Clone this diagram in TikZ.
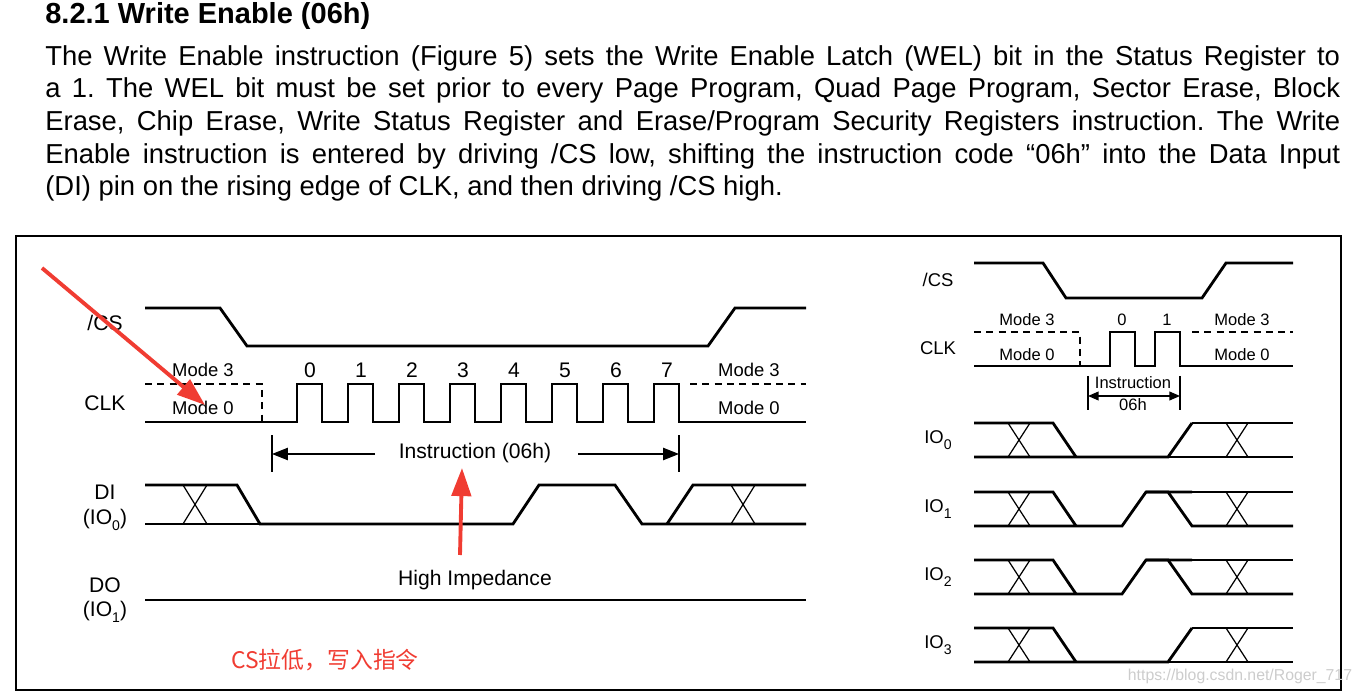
\documentclass[tikz,border=0pt]{standalone}
\usepackage{fontspec}
\setmainfont{Liberation Sans}
\newfontfamily\cjk{Noto Sans CJK SC}
\usetikzlibrary{arrows.meta}
\definecolor{redarrow}{RGB}{240,60,50}
\newcommand{\lowsub}[1]{\raisebox{-0.55ex}{\fontsize{8}{8}\selectfont #1}}
\tikzset{
 sig/.style={line width=1.6pt},
 thin/.style={line width=0.7pt},
 dashline/.style={line width=1.6pt,dash pattern=on 4pt off 3pt},
 lbl/.style={font=\fontsize{12}{12}\selectfont,inner sep=0},
 lbls/.style={font=\fontsize{9.4}{10}\selectfont,inner sep=0},
 para/.style={anchor=base west,inner sep=0,font=\fontsize{15.6}{16}\selectfont},
}
\begin{document}
\frenchspacing
\begin{tikzpicture}[x=0.02cm,y=-0.02cm]
\useasboundingbox (0,0) rectangle (1358,695);
% header
\node[anchor=base west,inner sep=0,font=\fontsize{16.5}{17}\selectfont\bfseries] (title) at (45,24) {8.2.1 Write Enable (06h)};
\node[para] (p1) at (45,66) {\makebox[25.9cm][s]{The Write Enable instruction (Figure 5) sets the Write Enable Latch (WEL) bit in the Status Register to}};
\node[para] (p2) at (45,98) {\makebox[25.9cm][s]{a 1. The WEL bit must be set prior to every Page Program, Quad Page Program, Sector Erase, Block}};
\node[para] (p3) at (45,131) {\makebox[25.9cm][s]{Erase, Chip Erase, Write Status Register and Erase/Program Security Registers instruction. The Write}};
\node[para] (p4) at (45,164) {\makebox[25.9cm][s]{Enable instruction is entered by driving /CS low, shifting the instruction code “06h” into the Data Input}};
\node[para] (p5) at (45,196) {(DI) pin on the rising edge of CLK, and then driving /CS high.};
% frame
\draw[line width=1.2pt] (16,236) rectangle (1341,690);
% ===== left diagram =====
\node[lbl] (lcs) at (105,323) {/CS};
\node[lbl] (lclk) at (105,403) {CLK};
\node[lbl] (ldi) at (105,492) {DI};
\node[lbl] (ldi2) at (105,520) {(IO\lowsub{0})};
\node[lbl] (ldo) at (105,585) {DO};
\node[lbl] (ldo2) at (105,612) {(IO\lowsub{1})};
\draw[sig] (145,308) -- (220,308) -- (247,346) -- (708,346) -- (735,308) -- (806,308);
\draw[dashline] (145,384) -- (262,384) -- (262,422);
\draw[dashline] (690,384) -- (806,384);
\draw[sig] (145,422) -- (297,422)
 \foreach \k in {0,...,6} { -- ({297+51*\k},384) -- ({322+51*\k},384) -- ({322+51*\k},422) -- ({348+51*\k},422) }
 -- (654,384) -- (679,384) -- (679,422) -- (806,422);
\foreach \k in {0,...,7} \node[lbl] (n\k) at ({310+51*\k},370) {\k};
\node[lbl,font=\fontsize{10.5}{11}\selectfont] (lm3) at (203,370) {Mode 3};
\node[lbl,font=\fontsize{10.5}{11}\selectfont] (lm0) at (203,408) {Mode 0};
\node[lbl,font=\fontsize{10.5}{11}\selectfont] (rm3) at (749,370) {Mode 3};
\node[lbl,font=\fontsize{10.5}{11}\selectfont] (rm0) at (749,408) {Mode 0};
\coordinate (ta1) at (272,435); \coordinate (ta2) at (272,472);
\coordinate (tb1) at (679,435); \coordinate (tb2) at (679,472);
\draw[thin] (ta1) -- (ta2); \draw[thin] (tb1) -- (tb2);
\node[lbl] (instr) at (475,453) {Instruction (06h)};
\coordinate (a1) at (375,454); \coordinate (a2) at (578,454);
\draw[thin,-{Triangle[length=9pt,width=7pt]}] (a1) -- (272,454);
\draw[thin,-{Triangle[length=9pt,width=7pt]}] (a2) -- (679,454);
% DI
\draw[sig] (145,485) -- (237,485) -- (260,524) -- (513,524) -- (539,485) -- (615,485) -- (642,524) -- (806,524);
\draw[sig] (145,524) -- (260,524);
\draw[sig] (667,524) -- (693,485) -- (806,485);
\draw[thin] (183,485) -- (207,524) (207,485) -- (183,524);
\draw[thin] (731,485) -- (755,524) (755,485) -- (731,524);
% DO
\draw[sig] (145,600) -- (806,600);
\node[lbl] (hiz) at (475,580) {High Impedance};
% ===== right diagram =====
\node[lbls,font=\fontsize{10.5}{11}\selectfont] (rcs) at (938,280) {/CS};
\node[lbls,font=\fontsize{10.5}{11}\selectfont] (rclk) at (938,348) {CLK};
\draw[sig] (974,263) -- (1043,263) -- (1066,298) -- (1202,298) -- (1226,263) -- (1293,263);
\draw[dashline] (974,332) -- (1080,332) -- (1080,366);
\draw[dashline] (1192,332) -- (1293,332);
\draw[sig] (974,366) -- (1110,366) -- (1110,332) -- (1135,332) -- (1135,366) -- (1155,366) -- (1155,332) -- (1180,332) -- (1180,366) -- (1293,366);
\node[lbls] (rn0) at (1122,320) {0};
\node[lbls] (rn1) at (1167,320) {1};
\node[lbls] (rlm3) at (1027,320) {Mode 3};
\node[lbls] (rlm0) at (1027,355) {Mode 0};
\node[lbls] (rrm3) at (1242,320) {Mode 3};
\node[lbls] (rrm0) at (1242,355) {Mode 0};
\draw[thin] (1088,376) -- (1088,410) (1180,376) -- (1180,410);
\coordinate (rb1) at (1088,396); \coordinate (rb2) at (1180,396);
\draw[thin,{Triangle[length=6pt,width=5pt]}-{Triangle[length=6pt,width=5pt]}] (rb1) -- (rb2);
\node[lbls,fill=white,inner sep=0.5pt] (rinstr) at (1133,383) {Instruction};
\node[lbls] (r06h) at (1133,405) {06h};
% IO lines
\foreach \t/\n/\kind in {423/0/a,492/1/b,560/2/b,628/3/a}{
  \pgfmathsetmacro{\b}{\t+34}
  \node[lbls,font=\fontsize{10.5}{11}\selectfont] (io\n) at (938,{\t+17}) {IO\lowsub{\n}};
  \draw[sig] (974,\t) -- (1053,\t) -- (1076,\b);
  \draw[thin] (1008,\t) -- (1030,\b) (1030,\t) -- (1008,\b);
  \draw[thin] (1226,\t) -- (1248,\b) (1248,\t) -- (1226,\b);
  \draw[sig] (1192,\t) -- (1293,\t);
  \if\kind a
    \draw[sig] (974,\b) -- (1168,\b) -- (1192,\t);
    \draw[sig] (1168,\b) -- (1293,\b);
  \else
    \draw[sig] (974,\b) -- (1122,\b) -- (1146,\t) -- (1192,\t);
    \draw[sig] (1146,\t) -- (1168,\t) -- (1192,\b) -- (1293,\b);
  \fi
}
% annotations
\coordinate (ra1) at (42,268); \coordinate (ra2) at (205,405);
\draw[redarrow,line width=2.2pt,-{Triangle[length=16pt,width=11pt]}] (ra1) -- (ra2);
\coordinate (rb3) at (460,555); \coordinate (rb4) at (462,468);
\draw[redarrow,line width=2.2pt,-{Triangle[length=16pt,width=11pt]}] (rb3) -- (rb4);
\node[text=redarrow,inner sep=0,font=\cjk\fontsize{13}{13}\selectfont] (note) at (325,660) {CS拉低，写入指令};
\node[text=black!20,inner sep=0,font=\fontsize{9}{9}\selectfont] (wm) at (1240,676) {https://blog.csdn.net/Roger\_717};
\end{tikzpicture}
\end{document}
